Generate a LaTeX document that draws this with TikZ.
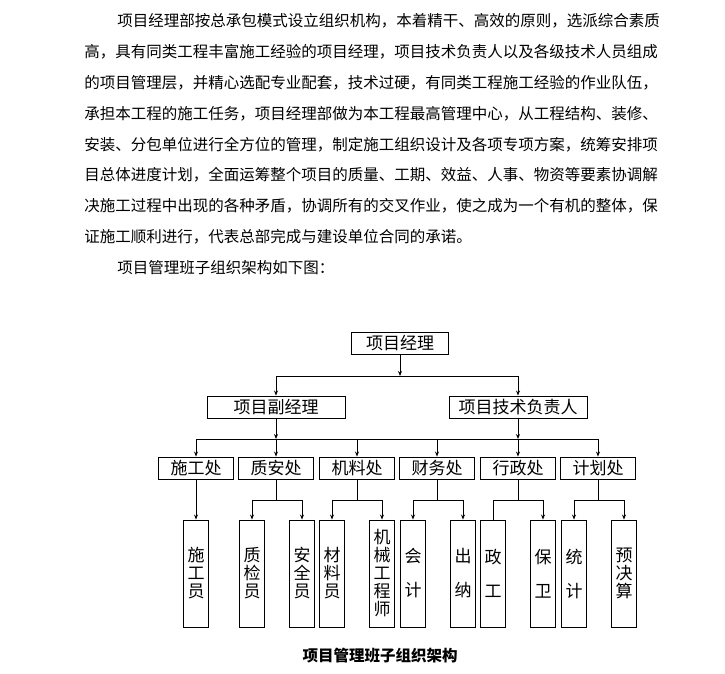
\documentclass[tikz,border=0pt]{standalone}
\usepackage{fontspec}
\setmainfont{Noto Sans CJK SC}
\XeTeXlinebreaklocale "zh"
\XeTeXlinebreakskip=0pt plus 1pt
\usetikzlibrary{arrows.meta}
\tikzset{every picture/.style={line width=0.75pt}}
\tikzset{
  hbox/.style={draw,line width=0.9,inner sep=0pt,font=\fontsize{17}{17}\selectfont},
  vbox/.style={draw,line width=0.9,inner sep=0pt,minimum width=25,minimum height=107,font=\fontsize{17}{18}\selectfont,align=center},
  txt/.style={anchor=west,inner sep=0pt,font=\fontsize{15.5}{15.5}\selectfont},
  arr/.style={-{Stealth[length=5pt,width=4pt]},line width=0.9}
}
\newcommand{\jline}[2]{\makebox[#1pt][s]{#2}}

\begin{document}
\begin{tikzpicture}[x=1pt,y=1pt,yscale=-1,xscale=1]
\useasboundingbox (0,0) rectangle (725,673);

% Text Node
\node [txt] (p1) at (117,21) {\jline{523}{项目经理部按总承包模式设立组织机构，本着精干、高效的原则，选派综合素质}};
\node [txt] (p2) at (84,52) {\jline{556}{高，具有同类工程丰富施工经验的项目经理，项目技术负责人以及各级技术人员组成}};
\node [txt] (p3) at (84,83) {\jline{556}{的项目管理层，并精心选配专业配套，技术过硬，有同类工程施工经验的作业队伍，}};
\node [txt] (p4) at (84,114) {\jline{556}{承担本工程的施工任务，项目经理部做为本工程最高管理中心，从工程结构、装修、}};
\node [txt] (p5) at (84,145) {\jline{556}{安装、分包单位进行全方位的管理，制定施工组织设计及各项专项方案，统筹安排项}};
\node [txt] (p6) at (84,175) {\jline{556}{目总体进度计划，全面运筹整个项目的质量、工期、效益、人事、物资等要素协调解}};
\node [txt] (p7) at (84,206) {\jline{556}{决施工过程中出现的各种矛盾，协调所有的交叉作业，使之成为一个有机的整体，保}};
\node [txt] (p8) at (84,237) {证施工顺利进行，代表总部完成与建设单位合同的承诺。};
\node [txt] (p9) at (117,268) {项目管理班子组织架构如下图：};

%Boxes
\node [hbox,minimum width=97,minimum height=22] (pm) at (400,343) {项目经理};
\node [hbox,minimum width=138,minimum height=22] (dpm) at (276,407) {项目副经理};
\node [hbox,minimum width=138,minimum height=22] (tech) at (518,407) {项目技术负责人};
\foreach \n/\x/\t in {d1/196/施工处,d2/276/质安处,d3/357/机料处,d4/437/财务处,d5/518/行政处,d6/598/计划处}
  \node [hbox,minimum width=75,minimum height=22] (\n) at (\x,468) {\t};
\foreach \n/\x/\t in {s1/196/施\\工\\员,s2/252/质\\检\\员,s3/302/安\\全\\员,s4/332/材\\料\\员,s5/382/机\\械\\工\\程\\师,
  s6/413/会\\[16pt]计,s7/463/出\\[16pt]纳,s8/493/政\\[16pt]工,s9/543/保\\[16pt]卫,s10/574/统\\[16pt]计,s11/624/预\\决\\算}
  \node [vbox] (\n) at (\x,573.5) {\t};

%Connectors
\coordinate (b1) at (400,376);
\coordinate (b2) at (276,439);
\coordinate (b3) at (518,439);
\draw [arr] (pm) -- (b1);
\draw [arr] (b1) -| (dpm);
\draw [arr] (b1) -| (tech);
\draw [arr] (dpm) -- (b2);
\draw [arr] (tech) -- (b3);
\draw (d1 |- b2) -- (d6 |- b2);
\foreach \n in {d1,d2,d3,d4,d5,d6}
  \draw [arr] (\n |- b2) -- (\n);
\draw [arr] (d1) -- (s1);
\foreach \d/\a/\b in {d2/s2/s3,d3/s4/s5,d4/s6/s7,d6/s10/s11}{
  \draw (\d.south) -- ++(0,21) coordinate (j);
  \draw [arr] (j) -| (\a);
  \draw [arr] (j) -| (\b);
}
\draw (d5.south) -- ++(0,21) coordinate (j5);
\draw (j5) -| (s8);
\draw [arr] (j5) -| (s9);

% Caption
\node [inner sep=0pt,font=\fontsize{15.5}{15.5}\selectfont\bfseries] (cap) at (380,656) {项目管理班子组织架构};
\end{tikzpicture}
\end{document}
